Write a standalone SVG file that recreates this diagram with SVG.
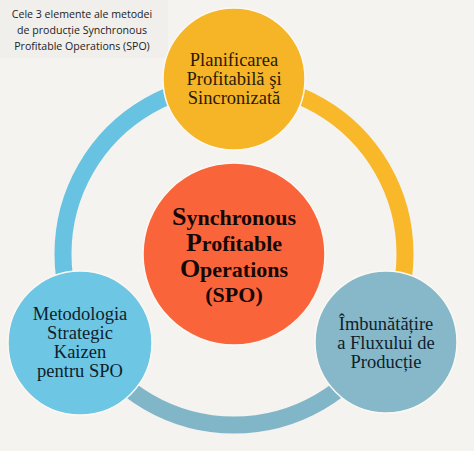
<svg xmlns="http://www.w3.org/2000/svg" width="474" height="451" viewBox="0 0 474 451">
<style>
.node{stroke:#fbf8f2;stroke-width:1.5}
.ring{fill:none;stroke-width:17}
.t{font-family:"Liberation Serif","Times New Roman",serif;font-size:18.5px;text-anchor:middle}
.c{font-family:"Liberation Serif","Times New Roman",serif;font-size:22px;font-weight:bold;text-anchor:middle;fill:#140805}
.big{font-size:26px}
.note{font-family:"Open Sans","Noto Sans",sans-serif;font-size:10.6px;text-anchor:middle;fill:#222}
</style>
<rect width="474" height="451" fill="#f5f3ef"/>
<rect x="0" y="0" width="168" height="58" fill="#f0efeb"/>
<g id="title">
<text class="note" x="82" y="18">Cele 3 elemente ale metodei</text>
<text class="note" x="82" y="34">de producție Synchronous</text>
<text class="note" x="82" y="50">Profitable Operations (SPO)</text>
</g>
<g id="connectors">
<path class="ring" stroke="#68c3e2" d="M234,83 A171,171 0 0 0 85.9,339.5"/>
<path class="ring" stroke="#f8b829" d="M234,83 A171,171 0 0 1 382.1,339.5"/>
<path class="ring" stroke="#81b6c8" d="M85.9,339.5 A171,171 0 0 0 382.1,339.5"/>
</g>
<g id="center">
<circle class="node" cx="234" cy="254" r="91" fill="#fa643a"/>
<text class="c" x="234" y="225"><tspan class="big">S</tspan>ynchronous</text>
<text class="c" x="234" y="251"><tspan class="big">P</tspan>rofitable</text>
<text class="c" x="234" y="277"><tspan class="big">O</tspan>perations</text>
<text class="c" x="234" y="302">(SPO)</text>
</g>
<g id="top">
<circle class="node" cx="234" cy="79" r="71" fill="#f6b526"/>
<g class="t" fill="#2a1a08">
<text x="234" y="66">Planificarea</text>
<text x="234" y="85">Profitabilă şi</text>
<text x="234" y="104">Sincronizată</text>
</g>
</g>
<g id="left">
<circle class="node" cx="80" cy="343" r="72" fill="#6cc6e4"/>
<g class="t" fill="#0e1e2c">
<text x="80" y="320">Metodologia</text>
<text x="80" y="339">Strategic</text>
<text x="80" y="358">Kaizen</text>
<text x="80" y="377">pentru SPO</text>
</g>
</g>
<g id="right">
<circle class="node" cx="386" cy="342" r="71" fill="#86b8ca"/>
<g class="t" fill="#0e1e2c">
<text x="386" y="330">Îmbunătățire</text>
<text x="386" y="349">a Fluxului de</text>
<text x="386" y="368">Producție</text>
</g>
</g>
</svg>
